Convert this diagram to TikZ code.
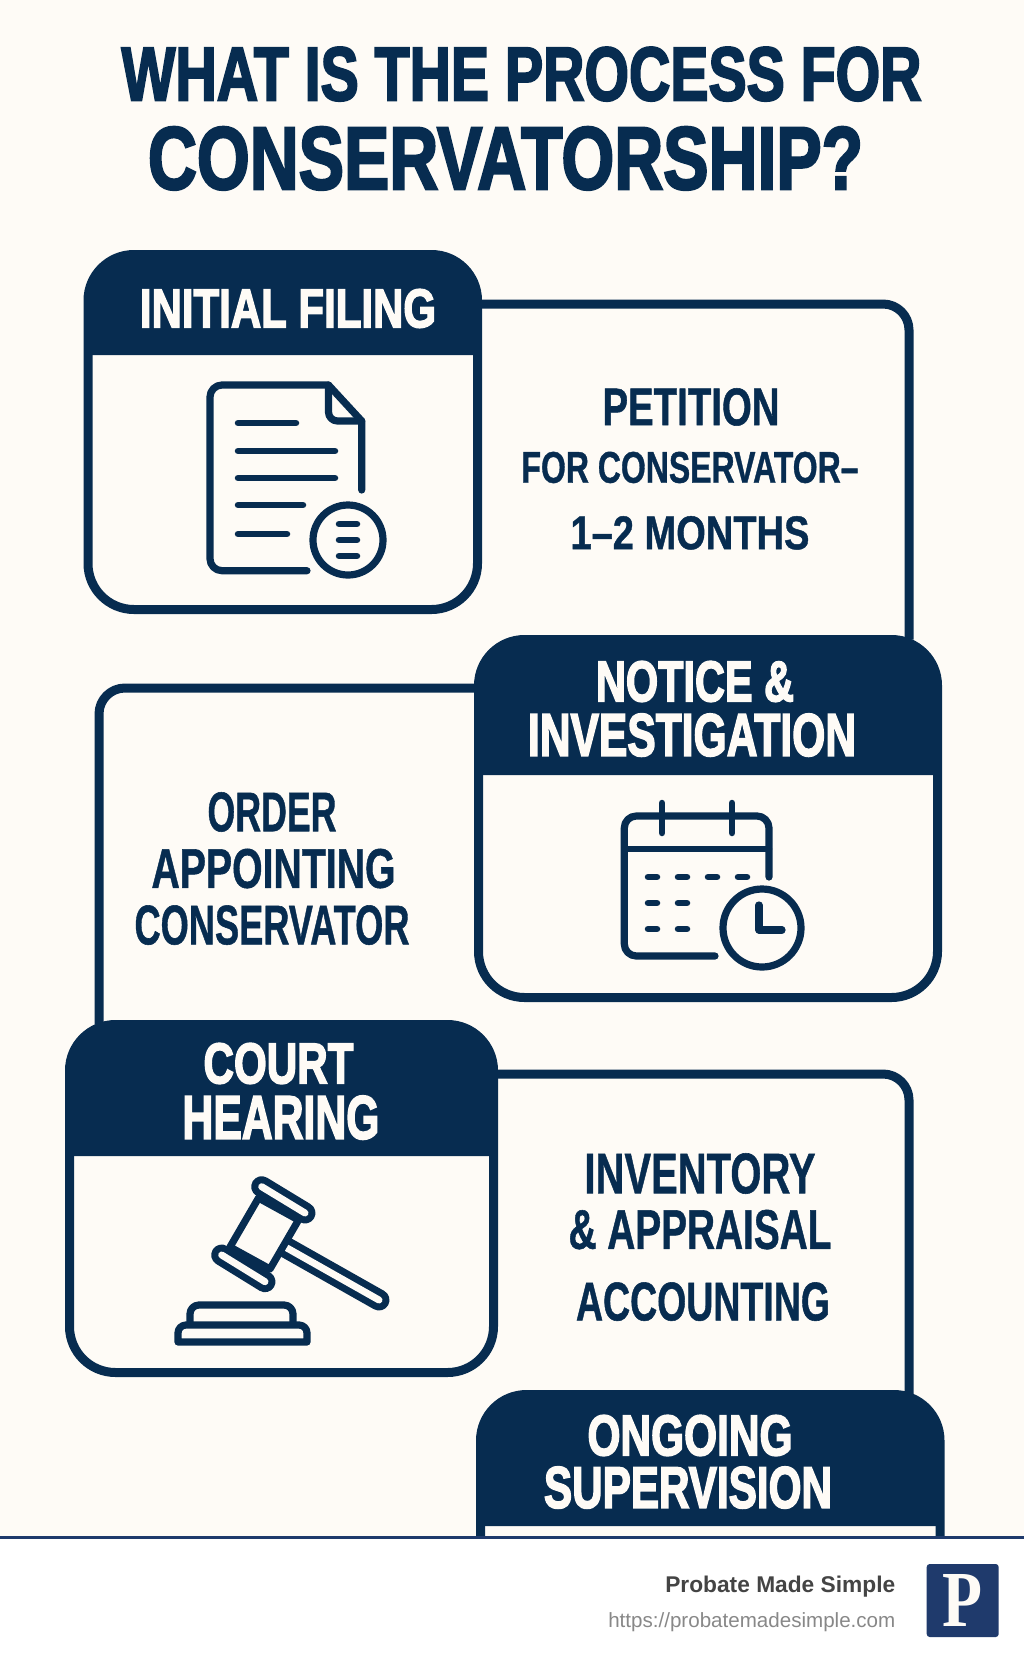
\documentclass[tikz,border=0pt]{standalone}
\usepackage{graphicx}
\usepackage{fontspec}
\setmainfont{Liberation Sans}
\newfontfamily\heavyfont[FakeBold=3]{Liberation Sans Bold}
\newfontfamily\bodyfont[FakeBold=1]{Liberation Sans Bold}
\newfontfamily\logofont{Liberation Serif Bold}
\definecolor{navy}{HTML}{072C50}
\definecolor{paper}{HTML}{FEFBF6}
\definecolor{brand}{HTML}{1F3A6C}
\definecolor{brandtext}{HTML}{444444}
\definecolor{urltext}{HTML}{888888}
\newcommand{\tline}[3]{\resizebox{#1pt}{#2pt}{#3}}
\pgfdeclarelayer{paperlayer}
\pgfdeclarelayer{linklayer}
\pgfsetlayers{paperlayer,linklayer,main}
\tikzset{
  cardbox/.style={draw=navy,line width=9pt,fill=paper,rounded corners=46pt,inner sep=0pt,outer sep=0pt},
  link/.style={draw=navy,line width=9pt,rounded corners=26pt},
  icon/.style={draw=navy,line width=7.2pt,line cap=round,line join=round},
  iconfine/.style={draw=navy,line width=6.5pt,line cap=round},
  hollow/.style={draw=navy,line width=7pt,double=paper,double distance=7pt,line cap=round},
  headtext/.style={anchor=north,inner sep=0pt,align=center,text=paper,font={\heavyfont\lineskip=0pt\baselineskip=0pt}},
  bodytext/.style={anchor=north,inner sep=0pt,align=center,text=navy,font={\bodyfont\lineskip=0pt\baselineskip=0pt}},
}
% name, x0, y0, x1, y1, header bottom (centre line of the border)
\newcommand{\card}[6]{%
  \node[cardbox,minimum width={(#4-#2)*1pt},minimum height={(#5-#3)*1pt}] (#1) at ({(#2+#4)/2},{(#3+#5)/2}) {};
  \fill[navy] (#2,#6) -- (#2,#3+46) .. controls (#2,#3+20) and (#2+20,#3) .. (#2+46,#3) -- (#4-46,#3) .. controls (#4-20,#3) and (#4,#3+20) .. (#4,#3+46) -- (#4,#6) -- cycle;
}
\begin{document}
\begin{tikzpicture}[x=1pt,y=-1pt]
\useasboundingbox (0,0) rectangle (1024,1666);
\begin{pgfonlayer}{paperlayer}
\fill[paper] (0,0) rectangle (1024,1666);
\end{pgfonlayer}

% title
\node[anchor=north,inner sep=0pt,align=center,text=navy,font={\heavyfont\lineskip=0pt\baselineskip=0pt}] (title) at (505.5,47)
  {\hspace*{32pt}\tline{800}{53}{WHAT IS THE PROCESS FOR}\\[26pt]\tline{715}{62}{CONSERVATORSHIP?}};

% connector anchors
\coordinate (a12) at (909,304);
\coordinate (a23) at (99,688);
\coordinate (a34) at (909,1074);

% cards
\card{c1}{88}{254.5}{477.5}{609.5}{355}
\card{c2}{478.5}{639.5}{937.5}{997.5}{775}
\card{c3}{69.5}{1024.5}{493.5}{1372.5}{1156}
\card{c4}{480.5}{1394.5}{940}{1640}{1526}

% connectors, on a layer beneath the cards
\begin{pgfonlayer}{linklayer}
\draw[link] (c1.east |- a12) -- (a12) -- (a12 |- c2.north);
\draw[link] (c2.west |- a23) -- (a23) -- (a23 |- c3.north);
\draw[link] (c3.east |- a34) -- (a34) -- (a34 |- c4.north);
\end{pgfonlayer}

% header texts
\node[headtext] (h1) at (288,289) {\tline{296}{38}{INITIAL FILING}};
\node[headtext] (h2) at (692,661) {\hspace*{6pt}\tline{198}{40}{NOTICE \&}\\[12pt]\tline{328}{42}{INVESTIGATION}};
\node[headtext] (h3) at (281,1043) {\tline{150}{40}{COURT}\hspace*{5pt}\\[12pt]\tline{197}{43}{HEARING}};
\node[headtext] (h4) at (688,1415) {\hspace*{4pt}\tline{205}{40}{ONGOING}\\[11pt]\tline{288}{41}{SUPERVISION}};

% side texts
\node[bodytext] (t1) at (690,388) {\hspace*{2pt}\tline{177}{37}{PETITION}\\[26pt]\tline{337}{31}{FOR CONSERVATOR–}\\[33pt]\tline{239}{33}{1–2 MONTHS}};
\node[bodytext] (t2) at (272,792) {\tline{129}{39}{ORDER}\\[17pt]\hspace*{3pt}\tline{244}{39}{APPOINTING}\\[17pt]\tline{275}{39}{CONSERVATOR}};
\node[bodytext] (t3) at (700,1153) {\tline{231}{40}{INVENTORY}\\[16pt]\tline{263}{39}{\& APPRAISAL}\\[33pt]\hspace*{6pt}\tline{254}{38}{ACCOUNTING}};

% document icon
\draw[icon] (307,570.7) [rounded corners=12pt] -- (210,570.7) -- (210,385) [sharp corners] -- (328.5,385) -- (361.7,421) -- (361.7,490);
\draw[icon] (328.5,385) [rounded corners=9pt] -- (328.5,421) [sharp corners] -- (361.7,421);
\foreach \yy/\xx in {423/296,451/335,478/335,505/303,534/287}
  \draw[iconfine] (238,\yy) -- (\xx,\yy);
\draw[icon] (348,540) circle[radius=35];
\foreach \yy in {524,540,556}
  \draw[iconfine] (339,\yy) -- (357,\yy);

% calendar icon
\draw[icon] (715,956) [rounded corners=12pt] -- (624.3,956) -- (624.3,816) -- (769,816) [sharp corners] -- (769,877);
\draw[iconfine] (624.3,849) -- (769,849);
\foreach \xx in {662,732}
  \draw[iconfine] (\xx,803) -- (\xx,833);
\foreach \xx in {648,678,708,738}
  \draw[iconfine,line width=6.5pt] (\xx,877) -- (\xx+9,877);
\foreach \yy in {903,929}
  \foreach \xx in {648,678}
    \draw[iconfine,line width=6.5pt] (\xx,\yy) -- (\xx+9,\yy);
\draw[icon] (762,928) circle[radius=39];
\draw[icon] (759,905) -- (759,930) -- (782,930);

% gavel icon
\draw[hollow] (287,1248) -- (379,1300);
\draw[icon,fill=paper] (258.5,1198) -- (230,1247) -- (270,1269) -- (298.5,1220) -- cycle;
\draw[hollow] (261.7,1186.7) -- (305,1213);
\draw[hollow] (221.7,1255) -- (265,1281.7);
\draw[icon,fill=paper,rounded corners=9pt] (190,1325) -- (190,1305) -- (293,1305) -- (293,1325);
\draw[icon,fill=paper,line cap=butt] (178,1342) [rounded corners=8pt] -- (178,1325) -- (307,1325) [sharp corners] -- (307,1342) -- cycle;

% footer
\fill[white] (0,1537) rectangle (1024,1666);
\draw[brand,line width=3pt] (0,1537.5) -- (1024,1537.5);
\node[anchor=south east,inner sep=0pt,text=brandtext] (brandname) at (895.5,1597) {\resizebox{230pt}{!}{\textbf{Probate Made Simple}}};
\node[anchor=base east,inner sep=0pt,text=urltext] (brandurl) at (895.5,1627) {\resizebox{287pt}{!}{https://probatemadesimple.com}};
\node[fill=brand,rounded corners=3pt,minimum width=72pt,minimum height=73pt,inner sep=0pt] (logo) at (962.7,1600.5) {};
\node[text=paper,inner sep=0pt,font=\logofont] (logoP) at (logo.center) {\tline{40}{52}{P}};
\end{tikzpicture}
\end{document}
